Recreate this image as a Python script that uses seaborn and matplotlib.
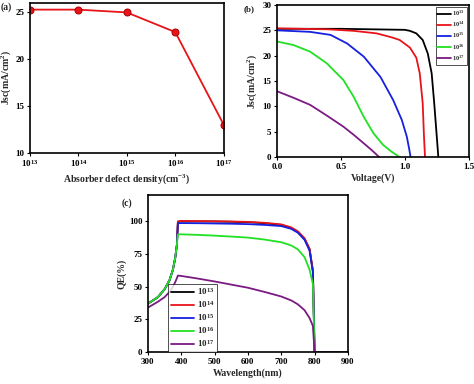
import numpy as np
import pandas as pd
import seaborn as sns
import matplotlib.pyplot as plt

# panel (a): Jsc vs absorber defect density
density = [1e13, 1e14, 1e15, 1e16, 1e17]
jsc = [25.3, 25.3, 25.0, 22.9, 13.0]

labels = ['$10^{13}$', '$10^{14}$', '$10^{15}$', '$10^{16}$', '$10^{17}$']
colors = ['black', '#e8141a', '#1520e0', '#22e022', '#7a1a82']

# panel (b): J-V curves
v13 = [0.0, 0.5, 1.0, 1.04, 1.09, 1.14, 1.18, 1.21, 1.23, 1.25, 1.262]
j13 = [25.3, 25.3, 25.1, 24.9, 24.4, 23.1, 20.4, 16.5, 10.6, 4.0, 0.0]
v14 = [0.0, 0.4, 0.6, 0.78, 0.9, 0.96, 1.04, 1.09, 1.117, 1.14, 1.15, 1.158]
j14 = [25.4, 25.2, 24.9, 24.4, 23.6, 23.1, 21.6, 19.6, 16.5, 10.6, 4.0, 0.0]
v15 = [0.0, 0.26, 0.42, 0.55, 0.68, 0.81, 0.91, 0.977, 1.016, 1.035, 1.045]
j15 = [25.0, 24.7, 24.1, 22.4, 19.8, 15.8, 11.2, 7.3, 4.0, 1.5, 0.0]
v16 = [0.0, 0.13, 0.26, 0.39, 0.52, 0.6, 0.68, 0.755, 0.83, 0.9, 0.96]
j16 = [22.8, 22.1, 20.8, 18.5, 15.2, 11.9, 7.9, 4.7, 2.4, 1.0, 0.0]
v17 = [0.0, 0.13, 0.26, 0.39, 0.52, 0.6, 0.68, 0.74, 0.8]
j17 = [13.0, 11.7, 10.3, 8.2, 6.0, 4.4, 2.7, 1.4, 0.0]

# panel (c): QE spectra
wl = [300, 330, 350, 365, 375, 382, 387, 390, 400, 450, 500, 550, 600, 650,
      700, 730, 750, 770, 785, 795, 800, 900]
qe13 = [37, 42, 48, 55, 63, 72, 82, 99.5, 99.9, 99.9, 99.8, 99.6, 99.3, 98.5,
        97.2, 94.8, 91.8, 86.3, 78.5, 62, 0, 0]
qe14 = [37, 42, 48, 55, 63, 72, 82, 100, 100.2, 100.1, 100, 99.8, 99.5, 98.8,
        97.6, 95.3, 92.3, 87, 79, 62, 0, 0]
qe15 = [37, 42, 48, 55, 63, 72, 82, 98.5, 98.6, 98.5, 98.3, 98.1, 97.8, 97.2,
        96.3, 94.2, 91.2, 85.8, 77.5, 61, 0, 0]
qe16 = [37, 42, 48, 55, 63, 72, 82, 90, 90, 89.6, 89, 88.3, 87.5, 86,
        84, 81.5, 78.5, 72.5, 63, 52, 0, 0]
qe17 = [34, 38.5, 42, 46, 50, 53.5, 56.5, 58.5, 58.2, 56.2, 54, 51.6, 49.2, 46,
        42.5, 39.5, 36.5, 32, 26, 20, 0, 0]

sns.set_theme(style="ticks")
plt.rcParams['font.family'] = ['Liberation Serif', 'DejaVu Serif']
plt.rcParams['font.weight'] = 'bold'
plt.rcParams['axes.labelweight'] = 'bold'
plt.rcParams['mathtext.fontset'] = 'custom'
plt.rcParams['mathtext.rm'] = 'Liberation Serif:bold'
plt.rcParams['mathtext.it'] = 'Liberation Serif:bold'
plt.rcParams['mathtext.bf'] = 'Liberation Serif:bold'
plt.rcParams['mathtext.default'] = 'bf'

fig = plt.figure(figsize=(4.74, 3.84), dpi=100)
ax_a = fig.add_axes([0.063, 0.602, 0.409, 0.39])
ax_b = fig.add_axes([0.584, 0.591, 0.405, 0.396])
ax_c = fig.add_axes([0.312, 0.083, 0.422, 0.409])

fs = 6.5

# (a)
sns.lineplot(x=density, y=jsc, ax=ax_a, color='#e8141a', lw=1.3, marker='o',
             markersize=5, markeredgecolor='#b00000', markerfacecolor='#e8141a')
ax_a.set_xscale('log')
ax_a.set_xlim(1e13, 1e17)
ax_a.set_ylim(10, 26)
ax_a.set_yticks([10, 15, 20, 25])
ax_a.set_xticks(density)
ax_a.set_xticklabels(labels)
ax_a.minorticks_off()
ax_a.set_xlabel('Absorber defect density(cm$^{-3}$)', fontsize=fs + 0.5, labelpad=2)
ax_a.set_ylabel('Jsc(mA/cm$^{2}$)', fontsize=fs + 0.5, labelpad=2)
fig.text(0.002, 0.975, '(a)', fontsize=fs + 0.5, fontweight='bold')

# (b)
jv = [(v13, j13), (v14, j14), (v15, j15), (v16, j16), (v17, j17)]
for (v, j), c, lab in zip(jv, colors, labels):
    sns.lineplot(x=v, y=j, ax=ax_b, color=c, lw=1.3, label=lab, sort=False)
ax_b.set_xlim(0, 1.5)
ax_b.set_ylim(0, 30)
ax_b.set_xticks([0, 0.5, 1.0, 1.5])
ax_b.set_yticks([0, 5, 10, 15, 20, 25, 30])
ax_b.set_xlabel('Voltage(V)', fontsize=fs + 0.5, labelpad=2)
ax_b.set_ylabel('Jsc(mA/cm$^{2}$)', fontsize=fs + 0.5, labelpad=2)
leg = ax_b.legend(loc='upper right', fontsize=4.5, frameon=True, fancybox=False,
                  edgecolor='black', handlelength=2.2, borderpad=0.3,
                  labelspacing=0.3, handletextpad=0.2, borderaxespad=0.3)
leg.get_frame().set_linewidth(0.6)
fig.text(0.515, 0.972, '(b)', fontsize=fs, fontweight='bold')

# (c)
qes = [qe13, qe14, qe15, qe16, qe17]
for q, c, lab in zip(qes, colors, labels):
    sns.lineplot(x=wl, y=q, ax=ax_c, color=c, lw=1.3, label=lab, sort=False)
ax_c.set_xlim(300, 900)
ax_c.set_ylim(0, 120)
ax_c.set_yticks([0, 25, 50, 75, 100])
ax_c.set_xticks([300, 400, 500, 600, 700, 800, 900])
ax_c.set_xlabel('Wavelength(nm)', fontsize=fs + 0.5, labelpad=2)
ax_c.set_ylabel('QE(%)', fontsize=fs + 0.5, labelpad=2)
leg = ax_c.legend(loc='lower left', bbox_to_anchor=(0.1, 0.0), fontsize=fs,
                  frameon=True, fancybox=False, edgecolor='black',
                  handlelength=2.6, borderpad=0.3, labelspacing=0.22,
                  handletextpad=0.3, borderaxespad=0.0)
leg.get_frame().set_linewidth(0.6)
fig.text(0.257, 0.463, '(c)', fontsize=fs + 0.5, fontweight='bold')

for ax in (ax_a, ax_b, ax_c):
    for s in ax.spines.values():
        s.set_linewidth(1.2)
        s.set_color('black')
    ax.tick_params(labelsize=fs, width=0.8, length=2.5, pad=1.5, colors='black')

fig.savefig('out.png', dpi=100)
